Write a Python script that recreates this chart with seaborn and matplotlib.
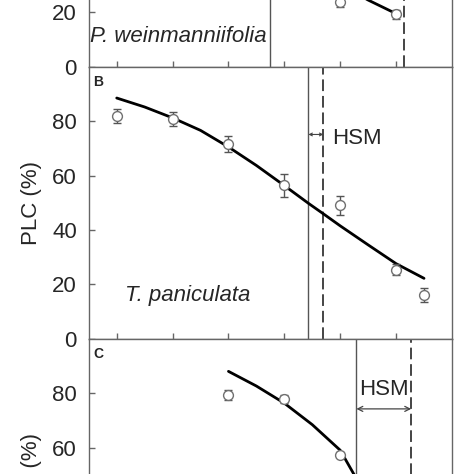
import matplotlib
matplotlib.use("Agg")
import matplotlib.pyplot as plt
import seaborn as sns

# panel A (only the lower part is inside the crop)
a_pts_x = [5, 6]
a_pts_y = [23.8, 19.2]
a_pts_err = [2.0, 1.8]
a_curve_x = [4.5, 5.0, 5.5, 6.0]
a_curve_y = [36.0, 30.2, 24.5, 19.5]
a_p50, a_pmin = 3.75, 6.14

# panel B
b_pts_x = [1, 2, 3, 4, 5, 6, 6.5]
b_pts_y = [81.8, 80.9, 71.6, 56.4, 49.0, 25.4, 16.1]
b_pts_err = [2.6, 2.6, 2.9, 4.2, 3.5, 2.1, 2.7]
b_curve_x = [1.0, 1.5, 2.0, 2.5, 3.0, 3.5, 4.0, 4.43, 4.7, 5.0, 5.5, 6.0, 6.5]
b_curve_y = [88.5, 85.2, 81.2, 76.6, 70.5, 63.7, 56.3, 49.8, 45.9, 41.5, 34.5, 27.6, 22.2]
b_p50, b_pmin = 4.43, 4.70

# panel C (only the upper part is inside the crop)
c_pts_x = [3, 4, 5]
c_pts_y = [79.4, 77.9, 57.4]
c_pts_err = [1.8, 1.5, 1.0]
c_curve_x = [3.0, 3.5, 4.0, 4.5, 5.0, 5.25, 5.5, 6.0]
c_curve_y = [88.0, 82.6, 76.3, 68.4, 59.0, 50.0, 42.0, 28.0]
c_p50, c_pmin = 5.29, 6.27

sns.set_style("ticks")
plt.rcParams["font.family"] = ["Liberation Sans", "DejaVu Sans"]

fig = plt.figure(figsize=(4.74, 4.74), dpi=100)
left, width, height = 0.1873, 0.7662, 0.5738
ax_a = fig.add_axes([left, 0.8593, width, height])
ax_b = fig.add_axes([left, 0.2854, width, height])
ax_c = fig.add_axes([left, -0.2884, width, height])

spine_col = "#666666"


def draw_panel(ax, px, py, perr, cx, cy, p50, pmin):
    ax.axvline(p50, color="#555555", lw=1.0)
    ax.axvline(pmin, color="#444444", lw=1.4, dashes=(6, 2.5))
    sns.lineplot(x=cx, y=cy, ax=ax, color="black", lw=2, sort=False,
                 estimator=None)
    ax.errorbar(px, py, yerr=perr, fmt="none", ecolor="#555555",
                elinewidth=1, capsize=3, capthick=1, zorder=3)
    sns.scatterplot(x=px, y=py, ax=ax, marker="o", s=50, facecolor="white",
                    edgecolor="#707070", linewidth=1, zorder=4)
    ax.set_xlim(0.5, 7.0)
    ax.set_ylim(0, 100)
    ax.set_xticks([1, 2, 3, 4, 5, 6])
    ax.set_xticklabels([])
    ax.set_yticks([0, 20, 40, 60, 80])
    ax.tick_params(direction="in", length=4, width=1, color=spine_col,
                   labelsize=16, pad=8.5)
    for s in ax.spines.values():
        s.set_color(spine_col)
        s.set_linewidth(1)
        s.set_visible(True)
    ax.set_xlabel("")
    ax.set_ylabel("PLC (%)", fontsize=16)
    ax.yaxis.set_label_coords(-0.13, 0.5)


draw_panel(ax_a, a_pts_x, a_pts_y, a_pts_err, a_curve_x, a_curve_y, a_p50, a_pmin)
draw_panel(ax_b, b_pts_x, b_pts_y, b_pts_err, b_curve_x, b_curve_y, b_p50, b_pmin)
draw_panel(ax_c, c_pts_x, c_pts_y, c_pts_err, c_curve_x, c_curve_y, c_p50, c_pmin)

ax_a.text(0.52, 11, "P. weinmanniifolia", style="italic", fontsize=16,
          va="center", ha="left")
ax_b.text(1.15, 16, "T. paniculata", style="italic", fontsize=16,
          va="center", ha="left")

ax_b.text(0.012, 0.97, "B", transform=ax_b.transAxes, fontsize=10,
          fontweight="bold", va="top", ha="left")
ax_c.text(0.012, 0.97, "C", transform=ax_c.transAxes, fontsize=10,
          fontweight="bold", va="top", ha="left")

# hydraulic safety margins
ax_b.annotate("", xy=(b_pmin, 75.1), xytext=(b_p50, 75.1),
              arrowprops=dict(arrowstyle="<->", color="#444444", lw=0.8,
                              shrinkA=0, shrinkB=0, mutation_scale=5))
ax_b.text(4.85, 73.7, "HSM", fontsize=16, va="center", ha="left")

ax_c.annotate("", xy=(c_pmin, 74.2), xytext=(c_p50, 74.2),
              arrowprops=dict(arrowstyle="<->", color="#444444", lw=0.9,
                              shrinkA=0, shrinkB=0, mutation_scale=9))
ax_c.text((c_p50 + c_pmin) / 2, 81.5, "HSM", fontsize=16, va="center",
          ha="center")

fig.savefig("out.png", dpi=100, facecolor="white")
